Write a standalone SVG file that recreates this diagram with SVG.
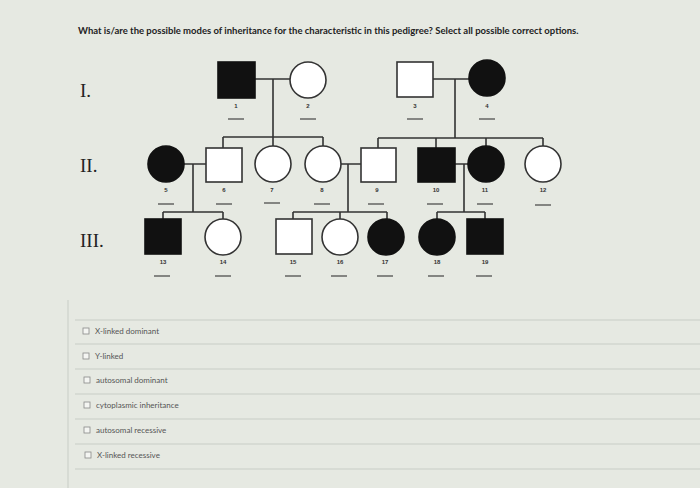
<svg xmlns="http://www.w3.org/2000/svg" width="700" height="488" viewBox="0 0 700 488">
<style>
.l{stroke:#333;stroke-width:1.6;fill:none}
.d{stroke:#444;stroke-width:1.2;fill:none}
.u{fill:#fff;stroke:#333;stroke-width:1.6}
.a{fill:#111;stroke:#111;stroke-width:1.6}
.n{font-family:"Liberation Sans",sans-serif;font-size:6px;font-weight:bold;fill:#333;text-anchor:middle}
.g{font-family:"Liberation Serif",serif;font-size:19px;fill:#222}
.o{font-family:Lato,"Liberation Sans",sans-serif;font-size:8px;fill:#555}
.s{stroke:#c8cdc6;stroke-width:1}
.b{fill:#f4f5f2;stroke:#888;stroke-width:0.8}
</style>
<rect width="700" height="488" fill="#e6e9e2"/>
<text x="78" y="34" font-family="Lato,'Liberation Sans',sans-serif" font-size="9.5" font-weight="bold" fill="#222">What is/are the possible modes of inheritance for the characteristic in this pedigree? Select all possible correct options.</text>
<text class="g" x="80" y="97">I.</text>
<text class="g" x="80" y="172">II.</text>
<text class="g" x="80" y="247">III.</text>
<g id="connectors" class="l">
<path d="M255 79H290M273 79V137M223 137H323M223 137V148M273 137V146M323 137V146"/>
<path d="M433 79H469M455 79V138M378 138H543M378 138V148M436 138V148M486 138V146M543 138V146"/>
<path d="M184 164H206M193 164V212M163 212H223M163 212V219M223 212V219"/>
<path d="M341 164H361M348 164V212M293 212H387M293 212V219M340 212V219M387 212V219"/>
<path d="M455 164H468M464 164V212M437 212H485M437 212V219M485 212V219"/>
</g>
<g id="n1"><rect class="a" x="218" y="62" width="37" height="36"/><text class="n" x="236" y="108">1</text><path class="d" d="M228 119H244"/></g>
<g id="n2"><circle class="u" cx="308" cy="80" r="18"/><text class="n" x="308" y="108">2</text><path class="d" d="M300 119H316"/></g>
<g id="n3"><rect class="u" x="397" y="62" width="36" height="35"/><text class="n" x="415" y="108">3</text><path class="d" d="M407 119H423"/></g>
<g id="n4"><circle class="a" cx="487" cy="78" r="18"/><text class="n" x="487" y="108">4</text><path class="d" d="M479 119H495"/></g>
<g id="n5"><circle class="a" cx="166" cy="164" r="18"/><text class="n" x="166" y="192">5</text><path class="d" d="M158 204H174"/></g>
<g id="n6"><rect class="u" x="206" y="148" width="36" height="34"/><text class="n" x="224" y="192">6</text><path class="d" d="M216 204H232"/></g>
<g id="n7"><circle class="u" cx="273" cy="164" r="18"/><text class="n" x="272" y="192">7</text><path class="d" d="M264 203H280"/></g>
<g id="n8"><circle class="u" cx="323" cy="164" r="18"/><text class="n" x="322" y="192">8</text><path class="d" d="M314 204H330"/></g>
<g id="n9"><rect class="u" x="361" y="148" width="35" height="34"/><text class="n" x="377" y="192">9</text><path class="d" d="M368 204H384"/></g>
<g id="n10"><rect class="a" x="418" y="148" width="37" height="34"/><text class="n" x="436" y="192">10</text><path class="d" d="M427 204H443"/></g>
<g id="n11"><circle class="a" cx="486" cy="164" r="18"/><text class="n" x="485" y="192">11</text><path class="d" d="M477 204H493"/></g>
<g id="n12"><circle class="u" cx="543" cy="164" r="18"/><text class="n" x="543" y="192">12</text><path class="d" d="M535 205H551"/></g>
<g id="n13"><rect class="a" x="145" y="219" width="36" height="35"/><text class="n" x="163" y="264">13</text><path class="d" d="M154 276H170"/></g>
<g id="n14"><circle class="u" cx="223" cy="237" r="18"/><text class="n" x="223" y="264">14</text><path class="d" d="M215 276H231"/></g>
<g id="n15"><rect class="u" x="276" y="219" width="36" height="35"/><text class="n" x="293" y="264">15</text><path class="d" d="M285 276H301"/></g>
<g id="n16"><circle class="u" cx="340" cy="237" r="18"/><text class="n" x="340" y="264">16</text><path class="d" d="M331 276H347"/></g>
<g id="n17"><circle class="a" cx="386" cy="237" r="18"/><text class="n" x="385" y="264">17</text><path class="d" d="M377 276H393"/></g>
<g id="n18"><circle class="a" cx="437" cy="237" r="18"/><text class="n" x="437" y="264">18</text><path class="d" d="M428 276H444"/></g>
<g id="n19"><rect class="a" x="467" y="219" width="36" height="35"/><text class="n" x="485" y="264">19</text><path class="d" d="M476 276H492"/></g>
<path d="M68 300V488" stroke="#c8cdc6" stroke-width="1"/>
<g class="s"><path d="M75 320H700M75 344H700M75 369H700M75 394H700M75 419H700M75 444H700M75 469H700"/></g>
<g id="options">
<rect class="b" x="83" y="328" width="6" height="6"/><text class="o" x="95" y="334">X-linked dominant</text>
<rect class="b" x="83" y="353" width="6" height="6"/><text class="o" x="95" y="359">Y-linked</text>
<rect class="b" x="84" y="377" width="6" height="6"/><text class="o" x="96" y="383">autosomal dominant</text>
<rect class="b" x="84" y="402" width="6" height="6"/><text class="o" x="96" y="408">cytoplasmic inheritance</text>
<rect class="b" x="84" y="427" width="6" height="6"/><text class="o" x="96" y="433">autosomal recessive</text>
<rect class="b" x="85" y="452" width="6" height="6"/><text class="o" x="97" y="458">X-linked recessive</text>
</g>
</svg>
